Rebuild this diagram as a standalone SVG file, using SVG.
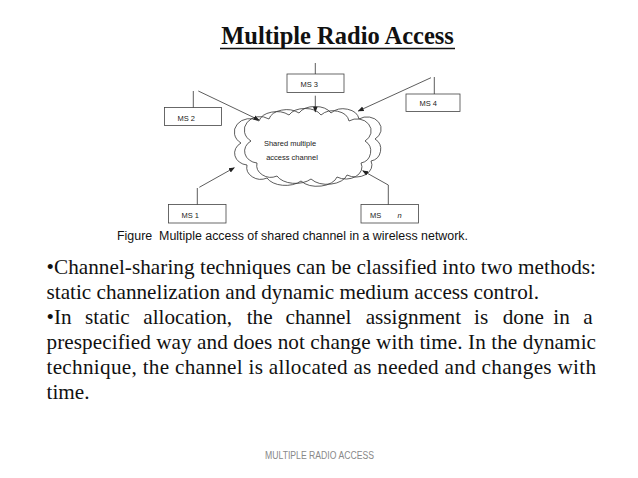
<svg xmlns="http://www.w3.org/2000/svg" width="638" height="478" viewBox="0 0 638 478">
<defs>
<style>
.box{fill:#fff;stroke:#444;stroke-width:0.8}
.ln{stroke:#333;stroke-width:0.8;fill:none}
.lbl{font-family:"Liberation Sans",Arial,sans-serif;font-size:7.5px;fill:#222}
.cloud{fill:none;stroke:#333;stroke-width:0.8}
.body{font-family:"Liberation Serif","Times New Roman",serif;font-size:21.2px;fill:#111}
</style>
<marker id="ah" viewBox="0 0 10 10" refX="9" refY="5" markerWidth="6" markerHeight="6" orient="auto" markerUnits="userSpaceOnUse">
<path d="M0,1 L10,5 L0,9 z" fill="#222"/>
</marker>
<path id="cl" d="M247,165 a14,12 0 0 1 -6,-22 a14,12 0 0 1 18,-22 a18,12 0 0 1 30,-6 a18,12 0 0 1 32,0 a16,12 0 0 1 28,6 a14,12 0 0 1 16,20 a12,12 0 0 1 -4,22 a16,12 0 0 1 -24,14 a20,12 0 0 1 -36,4 a20,12 0 0 1 -34,-3 a14,12 0 0 1 -20,-13 z"/>
</defs>
<rect width="638" height="478" fill="#fff"/>

<g id="title">
<text x="337.5" y="43.5" text-anchor="middle" font-family="'Liberation Serif','Times New Roman',serif" font-weight="bold" font-size="24.5" fill="#111">Multiple Radio Access</text>
<line x1="220" y1="48.5" x2="455" y2="48.5" stroke="#111" stroke-width="1.5"/>
</g>

<g id="cloud">
<use href="#cl" class="cloud"/>
<use href="#cl" class="cloud" transform="translate(10,-2)"/>
<text class="lbl" x="290" y="146" text-anchor="middle">Shared multiple</text>
<text class="lbl" x="292" y="160" text-anchor="middle">access channel</text>
</g>

<g id="ms3">
<rect class="box" x="287" y="74" width="57" height="18.5"/>
<text class="lbl" x="300.5" y="86.5">MS 3</text>
</g>
<g id="ms4">
<rect class="box" x="406" y="94" width="54" height="17.5"/>
<text class="lbl" x="419.5" y="106">MS 4</text>
</g>
<g id="ms2">
<rect class="box" x="164.5" y="107.5" width="57" height="18"/>
<text class="lbl" x="177.5" y="120.5">MS 2</text>
</g>
<g id="ms1">
<rect class="box" x="168.5" y="204.5" width="57.5" height="18.5"/>
<text class="lbl" x="181.5" y="217.5">MS 1</text>
</g>
<g id="msn">
<rect class="box" x="361" y="204.5" width="57.5" height="18.5"/>
<text class="lbl" x="370" y="217.5">MS</text>
<text class="lbl" x="397.5" y="217.5" font-style="italic">n</text>
</g>

<g id="connectors">
<line class="ln" x1="315.3" y1="63" x2="315.3" y2="74"/>
<line class="ln" x1="434.3" y1="77" x2="434.3" y2="94"/>
<line class="ln" x1="193.3" y1="91" x2="193.3" y2="107.5"/>
<line class="ln" x1="197.3" y1="188" x2="197.3" y2="204.5"/>
<line class="ln" x1="388.3" y1="185" x2="388.3" y2="204.5"/>
<line class="ln" x1="198.3" y1="91" x2="259" y2="120" marker-end="url(#ah)"/>
<line class="ln" x1="315.3" y1="95.7" x2="315.3" y2="112" marker-end="url(#ah)"/>
<line class="ln" x1="431" y1="77.7" x2="358.3" y2="111" marker-end="url(#ah)"/>
<line class="ln" x1="199.3" y1="187.3" x2="234.3" y2="167.7" marker-end="url(#ah)"/>
<line class="ln" x1="388.3" y1="185" x2="362.7" y2="170.7" marker-end="url(#ah)"/>
</g>

<g id="caption">
<text x="117" y="239.5" font-family="'Liberation Sans',Arial,sans-serif" font-size="12.5" fill="#111" style="white-space:pre" textLength="351" lengthAdjust="spacingAndGlyphs">Figure  Multiple access of shared channel in a wireless network.</text>
</g>

<g id="body">
<text class="body" x="46.5" y="274" textLength="549.5" lengthAdjust="spacing">•Channel-sharing techniques can be classified into two methods:</text>
<text class="body" x="46.5" y="298.5">static channelization and dynamic medium access control.</text>
<text class="body" y="323.5"><tspan x="46.5">•In</tspan><tspan x="85">static</tspan><tspan x="143.3">allocation,</tspan><tspan x="246.7">the</tspan><tspan x="285.5">channel</tspan><tspan x="365.7">assignment</tspan><tspan x="474">is</tspan><tspan x="502.7">done</tspan><tspan x="553.3">in</tspan><tspan x="583.3">a</tspan></text>
<text class="body" x="46.5" y="349" textLength="549.5" lengthAdjust="spacing">prespecified way and does not change with time. In the dynamic</text>
<text class="body" x="46.5" y="373.5" textLength="549.5" lengthAdjust="spacing">technique, the channel is allocated as needed and changes with</text>
<text class="body" x="46.5" y="398.5">time.</text>
</g>

<g id="footer">
<text x="319.5" y="459" text-anchor="middle" font-family="'Liberation Sans',Arial,sans-serif" font-size="10" fill="#888" textLength="109" lengthAdjust="spacingAndGlyphs">MULTIPLE RADIO ACCESS</text>
</g>
</svg>
